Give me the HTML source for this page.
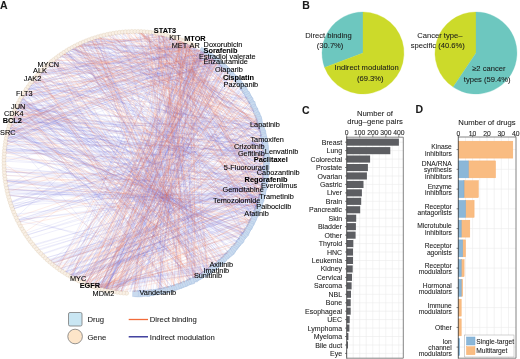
<!DOCTYPE html><html><head><meta charset="utf-8"><style>html,body{margin:0;padding:0;background:#fff;width:520px;height:359px;overflow:hidden}svg{display:block}text{font-family:'Liberation Sans', Arial, Helvetica, sans-serif;fill:#1a1a1a;stroke:#1a1a1a;stroke-width:0.07px}.cl{fill:#000;stroke:#000;stroke-width:0.08px}</style></head><body>
<svg width="520" height="359" viewBox="0 0 520 359">
<g fill="#f9f0e6" stroke="#e2d2bd" stroke-width="0.45"><circle cx="126.6" cy="293.2" r="2.05"/><circle cx="123.5" cy="293" r="2.05"/><circle cx="120.4" cy="292.7" r="2.05"/><circle cx="117.3" cy="292.3" r="2.05"/><circle cx="114.2" cy="291.8" r="2.05"/><circle cx="111.1" cy="291.3" r="2.05"/><circle cx="108" cy="290.7" r="2.05"/><circle cx="105" cy="290" r="2.05"/><circle cx="101.9" cy="289.3" r="2.05"/><circle cx="98.9" cy="288.4" r="2.05"/><circle cx="95.9" cy="287.5" r="2.05"/><circle cx="93" cy="286.6" r="2.05"/><circle cx="90" cy="285.5" r="2.05"/><circle cx="87.1" cy="284.4" r="2.05"/><circle cx="84.2" cy="283.2" r="2.05"/><circle cx="81.3" cy="282" r="2.05"/><circle cx="78.5" cy="280.7" r="2.05"/><circle cx="75.7" cy="279.3" r="2.05"/><circle cx="72.9" cy="277.9" r="2.05"/><circle cx="70.2" cy="276.3" r="2.05"/><circle cx="67.5" cy="274.8" r="2.05"/><circle cx="64.8" cy="273.1" r="2.05"/><circle cx="62.2" cy="271.4" r="2.05"/><circle cx="59.6" cy="269.7" r="2.05"/><circle cx="57.1" cy="267.8" r="2.05"/><circle cx="54.6" cy="265.9" r="2.05"/><circle cx="52.2" cy="264" r="2.05"/><circle cx="49.8" cy="262" r="2.05"/><circle cx="47.4" cy="259.9" r="2.05"/><circle cx="45.1" cy="257.8" r="2.05"/><circle cx="42.9" cy="255.6" r="2.05"/><circle cx="40.7" cy="253.4" r="2.05"/><circle cx="38.5" cy="251.1" r="2.05"/><circle cx="36.5" cy="248.8" r="2.05"/><circle cx="34.4" cy="246.4" r="2.05"/><circle cx="32.5" cy="244" r="2.05"/><circle cx="30.5" cy="241.6" r="2.05"/><circle cx="28.7" cy="239" r="2.05"/><circle cx="26.9" cy="236.5" r="2.05"/><circle cx="25.2" cy="233.9" r="2.05"/><circle cx="23.5" cy="231.2" r="2.05"/><circle cx="21.9" cy="228.6" r="2.05"/><circle cx="20.3" cy="225.8" r="2.05"/><circle cx="18.9" cy="223.1" r="2.05"/><circle cx="17.4" cy="220.3" r="2.05"/><circle cx="16.1" cy="217.5" r="2.05"/><circle cx="14.8" cy="214.6" r="2.05"/><circle cx="13.6" cy="211.8" r="2.05"/><circle cx="12.5" cy="208.8" r="2.05"/><circle cx="11.4" cy="205.9" r="2.05"/><circle cx="10.4" cy="202.9" r="2.05"/><circle cx="9.5" cy="200" r="2.05"/><circle cx="8.6" cy="197" r="2.05"/><circle cx="7.8" cy="193.9" r="2.05"/><circle cx="7.1" cy="190.9" r="2.05"/><circle cx="6.5" cy="187.8" r="2.05"/><circle cx="5.9" cy="184.8" r="2.05"/><circle cx="5.4" cy="181.7" r="2.05"/><circle cx="5" cy="178.6" r="2.05"/><circle cx="4.6" cy="175.5" r="2.05"/><circle cx="4.4" cy="172.4" r="2.05"/><circle cx="4.2" cy="169.2" r="2.05"/><circle cx="4.1" cy="166.1" r="2.05"/><circle cx="4" cy="163" r="2.05"/><circle cx="4" cy="159.9" r="2.05"/><circle cx="4.1" cy="156.7" r="2.05"/><circle cx="4.3" cy="153.6" r="2.05"/><circle cx="4.5" cy="150.5" r="2.05"/><circle cx="4.9" cy="147.4" r="2.05"/><circle cx="5.3" cy="144.3" r="2.05"/><circle cx="5.7" cy="141.2" r="2.05"/><circle cx="6.3" cy="138.1" r="2.05"/><circle cx="6.9" cy="135.1" r="2.05"/><circle cx="7.6" cy="132" r="2.05"/><circle cx="8.4" cy="129" r="2.05"/><circle cx="9.2" cy="126" r="2.05"/><circle cx="10.1" cy="123" r="2.05"/><circle cx="11.1" cy="120" r="2.05"/><circle cx="12.1" cy="117.1" r="2.05"/><circle cx="13.2" cy="114.2" r="2.05"/><circle cx="14.4" cy="111.3" r="2.05"/><circle cx="15.7" cy="108.4" r="2.05"/><circle cx="17" cy="105.6" r="2.05"/><circle cx="18.4" cy="102.8" r="2.05"/><circle cx="19.9" cy="100" r="2.05"/><circle cx="21.4" cy="97.3" r="2.05"/><circle cx="23" cy="94.6" r="2.05"/><circle cx="24.6" cy="92" r="2.05"/><circle cx="26.3" cy="89.3" r="2.05"/><circle cx="28.1" cy="86.8" r="2.05"/><circle cx="29.9" cy="84.2" r="2.05"/><circle cx="31.8" cy="81.8" r="2.05"/><circle cx="33.8" cy="79.3" r="2.05"/><circle cx="35.8" cy="76.9" r="2.05"/><circle cx="37.9" cy="74.6" r="2.05"/><circle cx="40" cy="72.3" r="2.05"/><circle cx="42.2" cy="70.1" r="2.05"/><circle cx="44.4" cy="67.9" r="2.05"/><circle cx="46.7" cy="65.7" r="2.05"/><circle cx="49" cy="63.7" r="2.05"/><circle cx="51.4" cy="61.6" r="2.05"/><circle cx="53.8" cy="59.7" r="2.05"/><circle cx="56.3" cy="57.8" r="2.05"/><circle cx="58.8" cy="55.9" r="2.05"/><circle cx="61.4" cy="54.1" r="2.05"/><circle cx="64" cy="52.4" r="2.05"/><circle cx="66.7" cy="50.7" r="2.05"/><circle cx="69.3" cy="49.1" r="2.05"/><circle cx="72.1" cy="47.6" r="2.05"/><circle cx="74.8" cy="46.1" r="2.05"/><circle cx="77.6" cy="44.7" r="2.05"/><circle cx="80.4" cy="43.4" r="2.05"/><circle cx="83.3" cy="42.1" r="2.05"/><circle cx="86.2" cy="40.9" r="2.05"/><circle cx="89.1" cy="39.8" r="2.05"/><circle cx="92" cy="38.7" r="2.05"/><circle cx="95" cy="37.8" r="2.05"/><circle cx="98" cy="36.8" r="2.05"/><circle cx="101" cy="36" r="2.05"/><circle cx="104" cy="35.2" r="2.05"/><circle cx="107.1" cy="34.5" r="2.05"/><circle cx="110.1" cy="33.9" r="2.05"/><circle cx="113.2" cy="33.3" r="2.05"/><circle cx="116.3" cy="32.8" r="2.05"/><circle cx="119.4" cy="32.4" r="2.05"/><circle cx="122.5" cy="32.1" r="2.05"/><circle cx="125.6" cy="31.8" r="2.05"/><circle cx="128.7" cy="31.7" r="2.05"/><circle cx="131.8" cy="31.5" r="2.05"/><circle cx="135" cy="31.5" r="2.05"/><circle cx="138.1" cy="31.5" r="2.05"/><circle cx="141.2" cy="31.6" r="2.05"/><circle cx="144.3" cy="31.8" r="2.05"/><circle cx="147.4" cy="32.1" r="2.05"/><circle cx="150.5" cy="32.4" r="2.05"/><circle cx="153.6" cy="32.8" r="2.05"/><circle cx="156.7" cy="33.3" r="2.05"/><circle cx="159.8" cy="33.9" r="2.05"/><circle cx="162.9" cy="34.5" r="2.05"/><circle cx="165.9" cy="35.2" r="2.05"/><circle cx="168.9" cy="36" r="2.05"/><circle cx="172" cy="36.8" r="2.05"/><circle cx="174.9" cy="37.7" r="2.05"/><circle cx="177.9" cy="38.7" r="2.05"/><circle cx="180.8" cy="39.8" r="2.05"/><circle cx="183.8" cy="40.9" r="2.05"/><circle cx="186.6" cy="42.1" r="2.05"/><circle cx="189.5" cy="43.4" r="2.05"/><circle cx="192.3" cy="44.7" r="2.05"/><circle cx="195.1" cy="46.1" r="2.05"/></g>
<g fill="#cadbef" stroke="#adc4e2" stroke-width="0.45"><rect x="200.5" y="48" width="3.4" height="3.4" transform="rotate(32.1 202.2 49.7)"/><rect x="202.4" y="49.1" width="3.6" height="3.6" transform="rotate(34.9 204.2 50.9)"/><rect x="204.2" y="50.2" width="3.8" height="3.8" transform="rotate(19.8 206.1 52.1)"/><rect x="206.4" y="51.8" width="3.2" height="3.2" transform="rotate(43.9 208 53.4)"/><rect x="208.2" y="53" width="3.5" height="3.5" transform="rotate(26.8 209.9 54.7)"/><rect x="209.7" y="53.9" width="4.2" height="4.2" transform="rotate(34.9 211.8 56)"/><rect x="211.6" y="55.3" width="4" height="4" transform="rotate(36.1 213.7 57.4)"/><rect x="213.6" y="56.8" width="3.8" height="3.8" transform="rotate(27.3 215.5 58.8)"/><rect x="215.4" y="58.3" width="3.8" height="3.8" transform="rotate(49.8 217.3 60.2)"/><rect x="217.2" y="59.8" width="3.7" height="3.7" transform="rotate(47 219 61.6)"/><rect x="218.9" y="61.2" width="3.9" height="3.9" transform="rotate(27.7 220.8 63.1)"/><rect x="220.5" y="62.6" width="4" height="4" transform="rotate(44.5 222.5 64.6)"/><rect x="222.5" y="64.4" width="3.5" height="3.5" transform="rotate(28.7 224.2 66.2)"/><rect x="223.8" y="65.7" width="4.1" height="4.1" transform="rotate(43 225.9 67.7)"/><rect x="225.6" y="67.4" width="3.9" height="3.9" transform="rotate(56.2 227.5 69.3)"/><rect x="227.2" y="69" width="3.9" height="3.9" transform="rotate(58.4 229.1 71)"/><rect x="228.9" y="70.8" width="3.6" height="3.6" transform="rotate(55.8 230.7 72.6)"/><rect x="230.4" y="72.5" width="3.6" height="3.6" transform="rotate(60.9 232.3 74.3)"/><rect x="231.8" y="74" width="4.1" height="4.1" transform="rotate(36.7 233.8 76)"/><rect x="233.6" y="76.1" width="3.3" height="3.3" transform="rotate(41.3 235.3 77.8)"/><rect x="234.1" y="76.8" width="5.4" height="5.4" transform="rotate(48.9 236.8 79.5)"/><rect x="235.7" y="78.8" width="5" height="5" transform="rotate(45.8 238.2 81.3)"/><rect x="237.2" y="80.7" width="4.8" height="4.8" transform="rotate(49.4 239.6 83.1)"/><rect x="238.6" y="82.6" width="4.6" height="4.6" transform="rotate(56.4 241 85)"/><rect x="239.8" y="84.4" width="4.9" height="4.9" transform="rotate(66.9 242.3 86.8)"/><rect x="241.1" y="86.2" width="5" height="5" transform="rotate(68.7 243.6 88.7)"/><rect x="242.3" y="88" width="5.2" height="5.2" transform="rotate(71.5 244.9 90.6)"/><rect x="243.6" y="90" width="5" height="5" transform="rotate(47.7 246.1 92.5)"/><rect x="244.7" y="91.9" width="5.2" height="5.2" transform="rotate(72.7 247.3 94.5)"/><rect x="245.8" y="93.8" width="5.3" height="5.3" transform="rotate(61.9 248.5 96.5)"/><rect x="247.1" y="95.9" width="5.1" height="5.1" transform="rotate(52.1 249.6 98.4)"/><rect x="248.1" y="97.9" width="5.2" height="5.2" transform="rotate(64 250.7 100.5)"/><rect x="249.5" y="100.2" width="4.5" height="4.5" transform="rotate(49.7 251.8 102.5)"/><rect x="250.2" y="101.9" width="5.2" height="5.2" transform="rotate(78.5 252.8 104.5)"/><rect x="251.7" y="104.4" width="4.3" height="4.3" transform="rotate(73.8 253.8 106.6)"/><rect x="252.4" y="106.3" width="4.7" height="4.7" transform="rotate(55.3 254.8 108.7)"/><rect x="253.4" y="108.5" width="4.6" height="4.6" transform="rotate(74.9 255.7 110.8)"/><rect x="253.9" y="110.3" width="5.2" height="5.2" transform="rotate(54.1 256.6 112.9)"/><rect x="254.9" y="112.5" width="4.9" height="4.9" transform="rotate(55.1 257.4 115)"/><rect x="255.7" y="114.6" width="5.1" height="5.1" transform="rotate(64.7 258.2 117.2)"/><rect x="256.4" y="116.7" width="5.3" height="5.3" transform="rotate(85.2 259 119.3)"/><rect x="257.3" y="119.1" width="4.8" height="4.8" transform="rotate(86.8 259.7 121.5)"/><rect x="258.1" y="121.4" width="4.6" height="4.6" transform="rotate(60.1 260.4 123.7)"/><rect x="258.6" y="123.4" width="4.9" height="4.9" transform="rotate(59.7 261.1 125.9)"/><rect x="259.5" y="125.9" width="4.4" height="4.4" transform="rotate(72 261.7 128.1)"/><rect x="259.5" y="127.5" width="5.5" height="5.5" transform="rotate(65.5 262.3 130.3)"/><rect x="260.5" y="130.1" width="4.8" height="4.8" transform="rotate(87.8 262.8 132.5)"/><rect x="260.8" y="132.2" width="5.1" height="5.1" transform="rotate(91.6 263.3 134.8)"/><rect x="260.9" y="134.1" width="5.9" height="5.9" transform="rotate(75.1 263.8 137)"/><rect x="261.6" y="136.6" width="5.3" height="5.3" transform="rotate(80.4 264.2 139.2)"/><rect x="261.8" y="138.7" width="5.5" height="5.5" transform="rotate(83.7 264.6 141.5)"/><rect x="262.2" y="141.1" width="5.4" height="5.4" transform="rotate(85.4 265 143.8)"/><rect x="262.3" y="143.1" width="5.9" height="5.9" transform="rotate(83 265.3 146)"/><rect x="262.9" y="145.7" width="5.3" height="5.3" transform="rotate(90.4 265.5 148.3)"/><rect x="263.3" y="148.1" width="5" height="5" transform="rotate(78.8 265.8 150.6)"/><rect x="263" y="149.9" width="6" height="6" transform="rotate(86.4 265.9 152.9)"/><rect x="263.4" y="152.5" width="5.4" height="5.4" transform="rotate(72.1 266.1 155.2)"/><rect x="263.6" y="154.8" width="5.2" height="5.2" transform="rotate(90.2 266.2 157.5)"/><rect x="263.9" y="157.4" width="4.7" height="4.7" transform="rotate(92.3 266.3 159.8)"/><rect x="263.5" y="159.3" width="5.5" height="5.5" transform="rotate(76.6 266.3 162)"/><rect x="263.5" y="161.6" width="5.5" height="5.5" transform="rotate(89.8 266.3 164.3)"/><rect x="263.4" y="163.8" width="5.6" height="5.6" transform="rotate(87.4 266.2 166.6)"/><rect x="263.3" y="166.1" width="5.6" height="5.6" transform="rotate(99.9 266.1 168.9)"/><rect x="263.6" y="168.8" width="4.7" height="4.7" transform="rotate(80.6 266 171.2)"/><rect x="263.1" y="170.7" width="5.6" height="5.6" transform="rotate(108.7 265.8 173.5)"/><rect x="263.1" y="173.3" width="5" height="5" transform="rotate(94.5 265.6 175.8)"/><rect x="262.6" y="175.3" width="5.5" height="5.5" transform="rotate(91.4 265.4 178)"/><rect x="262.5" y="177.7" width="5.2" height="5.2" transform="rotate(92.2 265.1 180.3)"/><rect x="262.2" y="180" width="5.2" height="5.2" transform="rotate(101.7 264.8 182.6)"/><rect x="261.8" y="182.3" width="5.1" height="5.1" transform="rotate(96.1 264.4 184.8)"/><rect x="261.1" y="184.3" width="5.7" height="5.7" transform="rotate(86.6 264 187.1)"/><rect x="260.8" y="186.6" width="5.4" height="5.4" transform="rotate(108.9 263.5 189.4)"/><rect x="260.5" y="189" width="5.1" height="5.1" transform="rotate(94.5 263 191.6)"/><rect x="259.6" y="190.9" width="5.7" height="5.7" transform="rotate(96 262.5 193.8)"/><rect x="259.5" y="193.6" width="4.9" height="4.9" transform="rotate(102.9 261.9 196)"/><rect x="258.5" y="195.4" width="5.6" height="5.6" transform="rotate(93.9 261.3 198.3)"/><rect x="258.1" y="197.9" width="5.1" height="5.1" transform="rotate(101.8 260.7 200.4)"/><rect x="257.1" y="199.7" width="5.8" height="5.8" transform="rotate(106 260 202.6)"/><rect x="256.4" y="201.9" width="5.8" height="5.8" transform="rotate(98.9 259.3 204.8)"/><rect x="256" y="204.4" width="5.1" height="5.1" transform="rotate(114.3 258.5 207)"/><rect x="254.8" y="206.2" width="5.9" height="5.9" transform="rotate(109.3 257.7 209.1)"/><rect x="254.4" y="208.8" width="5" height="5" transform="rotate(100.4 256.9 211.3)"/><rect x="253.3" y="210.7" width="5.4" height="5.4" transform="rotate(103.5 256 213.4)"/><rect x="252.3" y="212.6" width="5.7" height="5.7" transform="rotate(124 255.1 215.5)"/><rect x="251.7" y="215.1" width="4.9" height="4.9" transform="rotate(108.2 254.2 217.6)"/><rect x="250.3" y="216.8" width="5.7" height="5.7" transform="rotate(120.1 253.2 219.6)"/><rect x="249.3" y="218.8" width="5.7" height="5.7" transform="rotate(112.2 252.2 221.7)"/><rect x="248.7" y="221.3" width="4.9" height="4.9" transform="rotate(111.6 251.1 223.7)"/><rect x="247.2" y="222.9" width="5.7" height="5.7" transform="rotate(111.9 250.1 225.8)"/><rect x="246.4" y="225.2" width="5.2" height="5.2" transform="rotate(117.3 248.9 227.8)"/><rect x="245.2" y="227.1" width="5.2" height="5.2" transform="rotate(118.1 247.8 229.7)"/><rect x="243.6" y="228.7" width="5.9" height="5.9" transform="rotate(111.5 246.6 231.7)"/><rect x="243" y="231.3" width="4.7" height="4.7" transform="rotate(136.1 245.4 233.6)"/><rect x="241.2" y="232.6" width="5.8" height="5.8" transform="rotate(138.4 244.1 235.5)"/><rect x="240.2" y="234.8" width="5.3" height="5.3" transform="rotate(138.3 242.8 237.4)"/><rect x="238.5" y="236.4" width="5.9" height="5.9" transform="rotate(117.5 241.5 239.3)"/><rect x="237.3" y="238.3" width="5.7" height="5.7" transform="rotate(136.9 240.1 241.2)"/><rect x="236" y="240.2" width="5.6" height="5.6" transform="rotate(128.4 238.7 243)"/><rect x="234.8" y="242.2" width="5.1" height="5.1" transform="rotate(124 237.3 244.8)"/><rect x="233.4" y="244" width="5" height="5" transform="rotate(116.8 235.9 246.5)"/><rect x="231.7" y="245.6" width="5.5" height="5.5" transform="rotate(124.4 234.4 248.3)"/><rect x="230" y="247.1" width="5.8" height="5.8" transform="rotate(118.2 232.9 250)"/><rect x="228.4" y="248.8" width="5.9" height="5.9" transform="rotate(138.6 231.3 251.7)"/><rect x="226.8" y="250.4" width="5.9" height="5.9" transform="rotate(145.7 229.8 253.4)"/><rect x="225.2" y="252.1" width="5.9" height="5.9" transform="rotate(137.1 228.2 255)"/><rect x="224.2" y="254.3" width="4.7" height="4.7" transform="rotate(143.2 226.5 256.6)"/><rect x="222.4" y="255.8" width="4.9" height="4.9" transform="rotate(130.8 224.9 258.2)"/><rect x="220.4" y="257" width="5.6" height="5.6" transform="rotate(138.5 223.2 259.8)"/><rect x="218.9" y="258.7" width="5.2" height="5.2" transform="rotate(152 221.5 261.3)"/><rect x="217" y="260" width="5.5" height="5.5" transform="rotate(135 219.7 262.8)"/><rect x="215.5" y="261.7" width="5" height="5" transform="rotate(151.6 218 264.3)"/><rect x="213.5" y="263" width="5.3" height="5.3" transform="rotate(150.3 216.2 265.7)"/><rect x="211.8" y="264.5" width="5.2" height="5.2" transform="rotate(133.7 214.4 267.1)"/><rect x="209.8" y="265.8" width="5.4" height="5.4" transform="rotate(153.3 212.5 268.5)"/><rect x="208.2" y="267.3" width="4.9" height="4.9" transform="rotate(153.6 210.7 269.8)"/><rect x="205.9" y="268.1" width="5.9" height="5.9" transform="rotate(155 208.8 271.1)"/><rect x="204" y="269.5" width="5.8" height="5.8" transform="rotate(132 206.9 272.4)"/><rect x="202.2" y="270.8" width="5.5" height="5.5" transform="rotate(158.7 205 273.6)"/><rect x="200.6" y="272.4" width="4.8" height="4.8" transform="rotate(141.9 203 274.8)"/><rect x="198.5" y="273.5" width="5" height="5" transform="rotate(150.6 201 276)"/><rect x="196.4" y="274.5" width="5.2" height="5.2" transform="rotate(150 199.1 277.1)"/><rect x="194.2" y="275.4" width="5.7" height="5.7" transform="rotate(136.9 197 278.2)"/><rect x="192.6" y="276.9" width="4.8" height="4.8" transform="rotate(141.6 195 279.3)"/><rect x="190.5" y="277.9" width="4.9" height="4.9" transform="rotate(140.9 193 280.3)"/><rect x="187.9" y="278.3" width="6" height="6" transform="rotate(165.4 190.9 281.3)"/><rect x="186.4" y="279.9" width="4.8" height="4.8" transform="rotate(155.9 188.8 282.3)"/><rect x="184.2" y="280.6" width="5.1" height="5.1" transform="rotate(151.2 186.7 283.2)"/><rect x="182" y="281.5" width="5.2" height="5.2" transform="rotate(162.2 184.6 284.1)"/><rect x="179.8" y="282.2" width="5.5" height="5.5" transform="rotate(154.6 182.5 284.9)"/><rect x="177.9" y="283.2" width="4.9" height="4.9" transform="rotate(154.7 180.3 285.7)"/><rect x="175.7" y="284.1" width="4.9" height="4.9" transform="rotate(162.5 178.2 286.5)"/><rect x="173.2" y="284.4" width="5.6" height="5.6" transform="rotate(158.2 176 287.2)"/><rect x="171.4" y="285.5" width="4.8" height="4.8" transform="rotate(153.2 173.8 287.9)"/><rect x="169" y="286" width="5.2" height="5.2" transform="rotate(166.9 171.6 288.6)"/><rect x="166.6" y="286.3" width="5.7" height="5.7" transform="rotate(161.2 169.4 289.2)"/><rect x="164.3" y="286.9" width="5.7" height="5.7" transform="rotate(169.5 167.2 289.8)"/><rect x="162.4" y="287.7" width="5.3" height="5.3" transform="rotate(163 165 290.3)"/><rect x="160.1" y="288.2" width="5.3" height="5.3" transform="rotate(173.9 162.7 290.8)"/><rect x="157.9" y="288.7" width="5.2" height="5.2" transform="rotate(174.6 160.5 291.3)"/><rect x="155.6" y="289.1" width="5.3" height="5.3" transform="rotate(162.2 158.3 291.7)"/><rect x="153.3" y="289.4" width="5.4" height="5.4" transform="rotate(176.7 156 292.1)"/><rect x="151.3" y="290.1" width="4.8" height="4.8" transform="rotate(169.5 153.7 292.5)"/><rect x="148.8" y="290.1" width="5.3" height="5.3" transform="rotate(184.2 151.5 292.8)"/><rect x="146.2" y="290.1" width="5.9" height="5.9" transform="rotate(170 149.2 293)"/><rect x="144" y="290.3" width="5.9" height="5.9" transform="rotate(183.5 146.9 293.3)"/><rect x="142.1" y="290.9" width="5" height="5" transform="rotate(174.7 144.6 293.4)"/><rect x="139.9" y="291.2" width="4.9" height="4.9" transform="rotate(186.2 142.3 293.6)"/><rect x="137.3" y="290.9" width="5.6" height="5.6" transform="rotate(189.4 140 293.7)"/><rect x="134.9" y="290.9" width="5.7" height="5.7" transform="rotate(183.8 137.7 293.8)"/><rect x="132.6" y="291" width="5.7" height="5.7" transform="rotate(181.7 135.5 293.8)"/></g>
<g fill="none" stroke-width="0.5">
<path stroke="rgba(105,105,215,0.21)" d="M213.1 59.2L41.7 72.7M223.5 68L7.7 138.9M219.2 64.1L51.8 63.2M209.4 56.5L21.4 100.4M211 57.7L13.4 118M194.8 47.7L21.8 99.6M211.6 58.1L17 109.1M173.1 38.7L40.6 73.9M187.3 44L30.3 86.4M216 61.4L7.7 138.6M220.7 65.4L68.7 51.2M215 60.7L60 57M191.5 46L46.4 68M226.4 70.8L35.5 79.7M161.2 35.7L8.4 135.4M153 34.3L27.4 90.4M206.6 54.6L8.3 135.7M213.3 59.3L27.9 89.7M213.8 59.7L9 132.5M162.5 36L76 47.2M191.1 45.8L19.3 104.4M224.1 68.5L6.8 143.9M186 43.5L94.7 39.4M220.7 65.5L39.6 74.9M200.7 50.9L87.1 42.2M197.8 49.3L83.6 43.7M187.9 44.3L9.9 129.1M217.6 62.8L7.4 140.7M220.4 65.1L80 45.2M208.9 56.2L7.3 141M199.2 50.1L40.9 73.5M202.4 51.9L82 44.3M202.3 51.9L12.7 119.9M220.9 65.6L41.4 73.1M197 48.8L74.9 47.8M215.1 60.8L80.5 45M216.2 61.6L16 111.5M218.2 63.3L18 107M206.3 54.4L95.2 39.3M246.5 96.7L95 39.3M207.8 55.4L51.4 63.6M215.4 61L78.9 45.8M183 42.2L9.2 131.9M173.5 38.9L88.5 41.6M203.6 52.7L13.3 118.3M180.6 41.3L23.2 97.2M221.5 66.1L28.8 88.4M211.1 57.7L87.8 41.9M211.3 57.9L11.7 122.9M229 73.4L24.6 94.9M228.5 72.9L40.7 73.7M198.5 49.6L31.7 84.4M191.5 46L16.8 109.6M202.4 52L11 125.1M222.3 66.9L24.8 94.4M164.7 36.4L30.5 86M181.8 41.7L38.2 76.5M203.1 52.3L6.8 143.9M213.5 59.5L63.7 54.4M221.7 66.3L22.7 98.1M169.7 37.7L10 128.7M206.8 54.7L44.5 69.9M179.7 41L88.9 41.5M185.6 43.3L39.2 75.3M188.3 44.5L33.4 82.2M153.9 34.4L60.4 56.6M186.1 43.5L10.6 126.5M215.9 61.4L8.8 133.6M209.8 56.8L71.3 49.8M226.7 71.1L84.7 43.2M212.4 58.7L28.5 88.8M242.7 90.5L100 37.8M203 52.3L43.6 70.7M186.6 43.7L8.5 134.9M186.8 43.8L71.9 49.4M215.1 60.8L7.7 138.6M222.2 66.8L11.8 122.5M190.4 45.5L59.1 57.6M238.7 84.9L52.6 62.6M222.3 66.8L9.1 132M218.4 63.4L43.5 70.8M201 51.1L107.9 289.1M212 58.4L86.8 282.7M184.2 42.7L93.7 285.3M181.7 41.7L97.2 286.4M153 34.3L73 276.2M213.3 59.4L116.4 290.7M203.2 52.4L115.4 290.5M214.7 60.4L62.9 270M200.8 50.9L100.7 287.4M199.5 50.2L56.8 265.8M244.2 92.9L104.1 288.2M219.5 64.4L88.2 283.2M204.7 53.3L80.8 280.1M203.7 52.7L72.4 275.9M214.1 60L71.9 275.6M202.6 52L118.3 290.9M223.2 67.7L71.3 275.2M186 43.5L111.5 289.8M164.2 36.3L66.9 272.6M202.6 52.1L80.9 280.2M229.8 74.2L82.6 280.9M224.4 68.8L78.2 278.9M202.1 51.7L67.3 272.9M203.7 52.7L86.3 282.5M201.9 51.6L70.9 275M172.8 38.6L69.2 274M217.1 62.4L75.2 277.4M241.4 88.7L120.2 291.2M197.4 49L65.9 272M188.7 44.6L106.5 288.8M208.3 55.7L106.4 288.8M220.8 65.5L65.9 272M224.7 69.1L105 288.5M188.2 44.4L121.3 291.3M230.1 74.6L101.2 287.5M190.8 45.6L95.1 285.7M202.8 52.1L62 269.5M172.7 38.6L58.7 267.1M201.3 51.3L70.1 274.6M199.1 50L100.3 287.3M209.2 56.4L106.6 288.9M210.5 57.3L81.9 280.6M203.6 52.7L92.3 284.8M209.4 56.5L86.3 282.5M193.7 47.1L143.1 291.7M147.4 33.6L207.1 270.1M191 45.7L173.9 286M146.3 33.5L180.4 283.8M187.6 44.2L142.6 291.8M172.9 38.7L157 290.1M182.7 42.1L159.8 289.6M185.6 43.3L192.6 278.5M159.2 35.3L160.7 289.4M152.1 34.1L204.4 271.8M169.8 37.8L133.9 292M159 35.2L133.8 292M162.1 35.9L207.8 269.6M180.8 41.4L195.1 277.2M194.4 47.4L186.6 281.3M158.2 35.1L193.4 278.1M161.4 35.7L134.5 292M166.4 36.9L194 277.8M166.4 36.9L139 291.9M183.2 42.3L130.7 291.9M163.2 36.1L196.1 276.7M183.9 42.6L207.1 270.1M148.1 33.7L204.9 271.5M159.5 35.3L151.6 290.9M163.7 36.2L189.6 279.9M177.6 40.2L190.3 279.6M184.3 42.8L137.5 292M196.5 276.4L95.9 39.1M172.7 286.4L68.9 51.1M207.1 270.1L31.2 85.1M222 258.4L19.4 104M191.1 279.2L28.3 89.1M221.7 258.7L13.9 116.5M200.6 274.2L55.7 60.1M176.8 285.1L82 44.4M190.1 279.7L32.1 83.9M217.6 262.2L86.6 42.4M206.6 270.4L34 81.4M194.3 277.6L21.6 99.9M196.6 276.4L78.5 46M219.7 260.5L19 105M211.3 267.2L53.4 61.9M214.5 264.7L75.6 47.4M209.4 268.5L27 91.1M200.6 274.2L84.1 43.4M204.1 272L19.4 104M214.5 264.7L10.1 128.2M225.7 254.9L48.5 66.1M164.5 288.6L13.6 117.5M209.4 268.5L45.5 68.9M220.3 259.9L42.5 71.8M161.9 289.2L98.3 38.3M164.9 288.5L55.7 60.1M201.4 273.7L81.9 44.4M211.8 266.8L67.3 52.1M224.2 256.3L49.6 65.2M187.7 280.8L48.4 66.3M207.9 269.5L36.1 78.9M199.1 275L10.8 125.9M195.5 277L21.9 99.5M194.1 277.7L11.5 123.7M221.9 258.6L68.3 51.5M194 277.8L12 121.9M168.5 287.6L101 37.5M171.7 286.7L19.2 104.5M195.4 277.1L95.8 39.1M216.9 262.8L74.8 47.8M222.8 257.7L30.3 86.3M171.7 286.7L16.3 110.6M215.8 263.7L17.3 108.4M255.9 208.9L74 48.3M262 188L105 36.5M263.8 176.2L134.6 33M254 111.5L188.9 44.7M257.9 203.2L66.2 52.8M260.9 132.2L142.6 33.2M262.5 185.1L114.6 34.6M259.8 128.1L135 33M256.5 117.6L71.7 49.5M261.3 133.8L62 55.5M263.7 177.3L103.7 36.8M264.5 159.9L181.9 41.8M258.8 124.6L138.4 33M249.5 222.9L161.9 35.8M247.6 98.6L170 37.8M249.9 102.7L101.8 37.3M260 196.4L170.1 37.8M260.3 129.7L156.7 34.8M257.8 203.6L100.6 37.6M263 143L89.3 41.3M262.1 187.2L149.8 33.9M242.8 234.2L119.6 33.9M260.1 196.1L141.9 33.2M258.2 202.3L68.2 51.6M263.7 148.1L166.4 36.9M249.4 223.2L68.2 51.5M252.3 217.4L165.7 36.7M253.8 110.8L72 49.4M244 232.4L124.2 33.4M251.3 219.4L71.1 49.8M264.4 166.8L122.6 33.6M253.2 215.3L92.1 40.3M261.9 136.6L86.2 42.5M264.4 167.9L73.4 48.6M252.6 108.3L162.5 36M264.2 153.7L109.6 35.5M259.1 125.5L92.4 40.2M264.4 168.3L107.5 35.9M260.2 129.4L118.4 34.1M257.4 204.7L157.9 35M252.6 216.8L145.7 33.4M257.5 120.4L115.5 34.5M262.4 139.1L151.2 34M263 143L83.1 43.9M258.6 201.2L72.4 49.1M253.9 111.1L108.2 35.8M264.2 153.3L162.9 36.1M260 128.7L153.8 34.4M256.4 207.5L150.8 34M264.4 156.3L161.8 35.8M263.9 174.5L79.6 45.5M263.4 179.1L129.3 33.1M264.3 169.9L142.6 33.2M264.2 171.3L111.7 35.1M257 205.9L74.9 47.8M262.4 139L20.5 102M263.2 144.4L18.3 106.4M263.6 147L70.1 50.4M259.8 128.1L30.5 86M254.3 112.1L77.9 46.3M264 173.5L49.1 65.6M258.5 123.4L97.6 38.5M264 174.1L82.2 44.3M264.1 152.9L35.4 79.7M254.1 111.7L83.8 43.6M259 199.9L33.5 82.1M247.3 98L72.4 49.1M259.1 125.7L35.9 79.1M263.7 148L64.2 54.1M262.5 139.9L93.8 39.7M250.5 104L83.1 43.8M261.1 191.9L25.2 93.8M254.8 211.7L66 52.9M257.4 204.7L61.5 55.9M263.6 177.8L90.1 41M259.4 198.5L28.7 88.5M264.5 160.7L74.4 48.1M257.8 203.7L56.6 59.4M258.8 124.4L25.1 93.9M264.3 155.8L51.6 63.4M258.5 201.4L18 107.1M264.1 152.9L57.3 58.9M259.3 198.7L41.5 73M254.4 212.8L21.5 100.2M264 173.8L19 104.9M263.4 179.5L94.1 39.6M253.3 215.2L52.7 62.5M257.2 205.4L19.3 104.3M264.1 172.4L38.7 76M262.6 140.3L49.6 65.2M261.5 190.3L29.6 87.2M263.6 147.2L56.5 59.5M260.7 131.4L83.1 43.8M264.4 157.3L33.8 81.7M253.6 214.4L65.9 53M261.8 136L37 77.8M264.4 167.6L64 54.2M249.6 102.1L72.5 49.1M264.5 162.5L20.1 102.7M247.5 98.4L28.3 89.2M264.3 170.4L66.2 52.8M256.7 206.9L61.8 55.7M264.1 172.6L69.9 50.6M263.4 179.3L29.7 87.1M256.7 118.1L19.5 104M256.5 207.4L66 52.9M247.9 226L17.1 108.9M264.1 152.3L8.3 135.9M264.5 160.5L10 128.6M239.7 238.7L6.1 150.3M258.4 123.3L6.5 146.5M260.4 195L20.5 101.9M257.3 120L9.4 131M239.4 239.1L22.3 98.7M264.1 173.2L6.4 147.5M237.1 242.2L6.3 148.3M261.5 135L5.9 152.4M258.8 124.7L16.8 109.6M258.4 201.9L15.3 113.1M239.8 238.5L7.7 138.7M264.4 167.1L12.5 120.4M256.2 208.1L6.7 145M264.4 166.6L13.9 116.6M264 174L9.4 131.1M238.8 239.9L17.1 109M264.4 156.9L6.1 149.9M254.9 211.4L18.1 106.7M259.3 199L22.2 98.9M259.4 198.3L8.3 135.5M243.3 233.6L9.2 131.6M259.4 198.4L19.9 103.1M264.3 155.7L5.8 153.4M263.9 174.6L12.7 119.8M243.3 233.5L6 151M248.6 224.7L19.2 104.6M264.2 154.4L18.7 105.5M255.8 209.1L20.4 102.2M260.1 129.2L12.1 121.6M263.2 144.5L16.2 110.9M263.8 149.1L13.1 118.7M263.3 180.3L7.2 141.4M252.3 217.4L17.2 108.6M260.2 129.6L17.6 107.8M244.8 93.8L122.5 291.4M264.4 168.4L114.9 290.4M209.9 56.9L99.8 287.1M260 128.7L96.2 286M232.3 77.1L98.2 286.7M202 273.3L106.1 288.7M264.4 158.8L112.2 290M262.9 142.5L108.7 289.3M236.6 82.2L103.4 288.1M227.4 253.2L104.4 288.3M211.7 266.8L103.2 288M209.1 268.7L106.4 288.8M209.7 268.3L94.7 285.6M261.3 133.8L110.8 289.7M208.6 55.9L106.2 288.8M220.7 259.6L97.7 286.5M210.5 57.3L102.7 287.9M230.3 74.8L105.2 288.5M253.2 109.5L127 291.8M226.4 70.8L101.1 287.5M234.5 79.7L105.5 288.6M202.7 52.1L101 287.5M214.6 264.7L101.4 287.6M215.7 263.8L98.5 286.8M259.8 196.9L113.6 290.2M264.4 156.4L103.5 288.1M229.9 74.4L105.3 288.6M249.9 102.8L96.9 286.3M204.7 271.6L88.7 283.4M241.5 88.9L99.4 287M201.8 273.4L100 287.2M216.5 263.2L99.9 287.2M212.8 58.9L101.7 287.6M252.6 108.2L104.3 288.3M263.3 145L115.3 290.5M244.3 232L108 289.1M239.2 85.7L102.6 287.9M240.7 87.7L116.5 290.7M214.5 60.3L106.8 288.9M212.3 58.6L114.9 290.4M256.9 118.7L96.3 286.1M203.3 52.5L120.8 291.2M264.4 167.9L97.4 286.4M264.4 166.7L95.9 285.9M227 253.6L96 286M264.5 161.1L116.8 290.7M204.5 53.3L106.8 288.9M261.7 189.3L111.4 289.8M264.4 168.7L107.1 289M226 70.4L105.5 288.6M264.5 166L89.3 283.7M240.8 87.8L71.6 275.4M261.6 135.2L97.9 286.6M264.4 156.4L96.2 286M256.8 118.5L102.3 287.8M244.6 231.4L71.3 275.3M251.1 219.9L71.1 275.1M261.7 135.6L85.6 282.2M228.5 72.9L86.1 282.4M264.1 152.2L75.9 277.7M256.8 206.6L79.7 279.6M263.5 178.3L74.2 276.8M223.5 67.9L96.6 286.2M251.3 105.6L83.1 281.2M243.4 233.4L86.2 282.5M249.9 102.8L89.1 283.6M263.2 181.1L72.4 275.9M264.5 160.6L74.4 276.9M260.7 193.7L85.4 282.1M258 121.9L73.1 276.2M257.1 205.7L78.6 279.1M250.1 103.1L178.6 40.5M236.8 82.4L11.8 202.3M231.2 249.2L34.8 80.4M190.8 279.3L12.7 120M213.9 265.2L88 41.8M201.9 273.4L66.9 52.4M207.6 269.8L26.5 91.8M143.4 291.7L23.1 97.3M202.3 273.1L139.3 33.1M264.3 154.5L6.1 149.6M219.4 260.8L19.6 221.2M253.7 214.2L6.8 180.9M201.3 273.7L128.6 33.2M263.7 176.9L50.4 260.6M234.7 79.8L24 95.9M220.9 65.6L161.1 35.7M183.8 282.5L123.3 33.5M246.5 96.7L5.5 161.5M199.1 50L106.5 288.8M260.3 195.1L161.2 35.7M256 208.8L195.1 47.8M258.4 201.8L57.9 58.4M263.6 146.9L28.8 88.4M148.6 291.3L54.7 60.9M223.7 68.2L7.6 185.5M252.9 216.1L23.6 96.4M142.8 291.8L8.7 133.9M242.1 235.3L194.2 47.3M261.2 133.3L186.8 43.8M258.9 200.2L78.9 279.2M227.8 252.9L115.2 34.5M258.6 123.9L11.8 122.7M243.6 91.9L51.1 261.1M246.1 229L9.7 195.1M239.7 238.7L108.8 289.3M201.1 273.8L16.8 215.4M197 48.8L17.2 216.4M237.6 241.5L14.9 114.1M224 68.4L55.3 264.6M190.2 279.6L33.9 81.6M214 59.9L122.5 291.4M261.5 134.9L69.6 50.7M163.7 288.8L25.6 93.2M168.2 287.7L25.7 93M208.9 56.1L165.9 36.7M260.9 132.2L151.4 34M259.9 128.5L30.9 85.4M260.4 130.3L140.5 33.1M260.8 131.9L13.2 206.4M257.4 204.9L60.9 268.7M260.3 195.3L49.1 259.4M255.9 209L67.2 272.9M251.6 218.8L72.8 276.1M258 122.1L11.8 202.4M259.9 196.8L49.8 260M250.6 221L76.2 277.9M259.9 196.7L51.1 261.2M257.6 120.8L11.4 201.1M257.8 203.6L62.4 269.8M255.5 115.2L7.6 185.8M251.4 105.7L7.8 186.8M254.7 212L65.5 271.8M258.3 202.1L52 261.9M260.7 193.8L53.4 263.1M257.6 204.2L56.9 265.8M264.4 158.3L27.7 235.1M259 125.2L14.1 208.9M260.3 195.4L47.2 257.6M250.1 221.8L70.4 274.8M264.2 153.6L26.4 233M248.8 224.3L72.7 276M256.8 206.5L55.4 264.7M262.6 184.6L38.8 249.2M262.3 138.9L14 208.5M262.6 140.1L18.9 219.8M262.7 141L20.1 222.2M258.7 200.7L53.2 262.9M253.5 214.7L75.6 277.6M260.3 195.1L47.1 257.6M255.5 209.9L60.3 268.3M261.3 191L52.6 262.4M262.9 142.1L18.6 219.3M260.6 130.8L13.9 208.4M260.8 131.7L13.2 206.6M246.6 228.2L70.4 274.8M263.4 179.4L39.6 250.1M256.6 207.2L70 274.5M262.8 183.4L37 247.2M257.5 120.5L11.6 201.9M263.3 180.2L34.6 244.3M264.4 167.3L30 238.3M254.4 212.6L65.8 272M259.1 125.3L12.6 204.8M264.4 167.8L27.5 234.6M263.2 180.9L42.8 253.4M254.1 213.3L64.9 271.4M263.2 144.3L19.4 220.9M263.7 177.1L35.3 245.1M263.1 181.4L43.4 254M263.2 180.7L6.2 149.3M261.7 135.6L10 128.6M264.3 155.3L7.3 140.8M263.6 177.5L5.9 172.2M258.4 201.7L6.6 179.1M264.4 157.8L7.9 137.9M258.6 201L7.8 186.8M264.2 154L8.1 136.6M264 173.4L6.2 149.3M258 202.9L6.8 180.5M250.9 220.2L9.7 195.3M260.8 131.8L13 119.1M264.2 153.4L9.2 131.9M260.8 193.2L5.8 171.6M263.4 145.9L12.8 119.7M264.2 154.3L9.4 131.1M261.7 189.1L6.8 180.9M263.1 181.8L5.7 169.6M264 151.3L10.4 127.3M258.4 201.7L9.1 192.7M264 151.6L7.9 137.6M259.8 127.9L13.3 118.3M261.7 189.5L5.8 171.3M257.2 205.4L8.3 189.5M256.9 206.2L9.1 192.8M253.7 214.4L9.9 195.8M263.3 144.7L10.9 125.4M264.1 152.2L7.3 141.2M263.9 175.4L5.5 161.2M264 151.6L10.2 127.8M259.5 198.2L7.1 182.6M261.1 192.1L5.6 167.3M257.9 203.3L8.3 189.1M263.4 145.3L12.3 121.1M262.9 142.2L14.1 116M256.9 206.3L8.7 191.1M264.5 161L6.6 145.5M262.9 182.6L5.7 156.2M255.7 209.3L6.8 180.6M262.4 185.5L5.5 159M264.2 171L6.3 147.9M260 196.3L6.9 181.2M263.5 178.9L6 150.6M253.9 213.8L8.1 188.3M262.6 184.7L6.1 175.3M235.4 244.2L22.3 98.7M234.2 245.7L20.8 101.4M241.9 235.6L21.3 100.5M243.5 233.3L10.1 128.4M18.7 219.5L260.5 194.3M121.8 291.3L224.3 68.7M223.7 256.9L36.8 78.1M13 206L262.2 187M134.8 292L211.8 58.3M245.1 230.7L8 136.9M129.2 291.9L221.1 65.8M246.9 227.6L9 132.4M223.7 256.9L32.5 83.4M243.6 233L13 119M242.8 234.2L9.7 129.8M198.6 275.3L103.1 37M130 291.9L223.7 68.1M222.2 258.2L37.9 76.8M225.1 255.5L40.3 74.2M7.5 185.3L257.1 205.6M202.6 272.9L91.5 40.5M118.8 291L220.8 65.5M245.4 230.2L9.3 131.4M234.8 245L26.8 91.4M152.9 290.8L189.6 45.1M245.4 230.2L9.4 131.1M16.3 214.2L262.1 187.1M160.9 289.4L194.9 47.7M12.1 203.3L261.3 191.1M159 289.8L189.5 45M117 290.7L229.9 74.4M232.4 247.9L22.1 99.1M236.9 242.4L22 99.3M138.5 292L215.2 60.8M144.3 291.7L214.4 60.2M180.8 283.6L139.7 33.1M155.7 290.3L198 49.4M19.1 220.2L262 187.6M158.7 289.8L190 45.3M139.6 291.9L212.7 58.9M239.7 238.6L13.7 117.2M241.7 235.8L14.2 115.7M226.6 254L38.1 76.6M9.5 194.4L260.4 194.8M231.3 249.1L28.8 88.4M237.5 241.6L20.8 101.4M159.5 289.7L174.7 39.2M193.3 278.1L112.5 35M247.7 226.3L8.5 134.6M8.4 189.9L258.4 201.6M228.4 252.2L28.3 89.1M243.9 232.6L7.4 140.6"/>
<path stroke="rgba(238,110,80,0.24)" d="M198.7 49.7L54.6 61M211.6 58.1L8.7 134.1M169.3 37.6L10.7 126.2M185.8 43.4L98 38.4M194.4 47.4L81.3 44.6M191.4 45.9L42.9 71.4M188.9 44.8L8.3 135.6M184.4 42.8L33.5 82.1M201.6 51.4L98.6 38.2M164.1 36.3L76.3 47M223.3 67.8L12.7 119.8M176.9 40L95.3 39.2M231.4 76L13.2 118.6M205.9 54.1L47.5 67.1M215.3 60.9L8.4 135.2M206.5 54.5L23.7 96.2M214.3 60.1L6.8 144.4M214.1 60L50.3 64.6M203.4 52.5L25.7 93.1M180.9 41.4L9.2 131.7M208.2 55.7L23.9 95.9M193.3 46.9L40.9 73.5M173 38.7L25 94.2M180.4 41.2L15.6 112.4M200.2 50.6L63.6 54.4M200.1 50.6L11 125.1M209.6 56.6L17.5 108M199.9 50.4L32.2 83.7M191.8 46.1L17.3 108.5M209.8 56.8L93.1 40M156.8 34.9L78.8 45.8M219.9 64.7L55.7 60.1M214 59.9L39.6 74.9M220 64.8L14.2 115.8M199.8 50.4L7.2 141.8M212.6 58.8L18.7 105.5M163.2 36.1L75.9 47.2M175 39.3L9.3 131.2M234.5 79.6L33.5 82.1M202.5 52L84.7 281.8M213.3 59.4L113.6 290.2M215.4 61L99.3 287M207.6 55.3L69.7 274.3M191.2 45.9L96.9 286.3M203.6 52.7L103.6 288.1M178 40.4L59 267.4M188.4 44.5L117.6 290.8M217 62.3L110.2 289.6M196.9 48.8L121.4 291.3M210.4 57.2L121.1 291.3M223.8 68.2L115 290.5M207.5 55.2L99.9 287.1M173.6 38.9L94 285.3M191.2 45.8L105.1 288.5M175 39.3L111.9 289.9M199.8 50.4L71.1 275.1M197.6 49.1L116.1 290.6M190.3 45.4L86.9 282.7M207.4 55.1L77.1 278.3M212.2 58.5L70.7 274.9M214.9 60.6L82 280.6M209.2 56.3L75 277.2M181.2 41.5L88.8 283.5M201.4 51.3L61.5 269.1M217.7 62.8L58 266.6M183.2 42.3L87.4 282.9M224.4 68.8L89.8 283.9M204.1 53L111.4 289.8M233.5 78.4L64.8 271.3M228.4 72.8L61 268.8M189.6 45.1L95.2 285.7M227.1 71.5L96 286M203.4 52.6L101.9 287.7M223.8 68.3L103.7 288.2M170.2 37.9L72.2 275.7M181.7 41.7L101.1 287.5M212.3 58.6L88.4 283.3M217.7 62.8L76.2 277.9M201.4 51.3L82.7 281M213.2 59.3L86.7 282.6M247.1 97.6L89.9 283.9M164.9 36.5L107.7 289.1M199 49.9L104.4 288.3M182.8 42.2L94.9 285.6M217.3 62.5L57.1 266M189.4 45L193.8 277.9M159.1 35.3L179.7 284M159.1 35.3L201.6 273.5M169.6 37.7L167.6 287.8M179 40.7L187.2 281M175.9 39.6L180.7 283.7M176.8 39.9L208.6 269.1M190.4 45.4L173.8 286.1M180.4 41.2L178.1 284.6M180 41.1L136.7 292M148.1 33.7L184.5 282.1M183.5 42.4L171.4 286.8M155.9 34.7L193.3 278.2M179.9 41L134.8 292M153.6 34.3L205.7 271M165.7 36.7L181.8 283.3M155 34.6L209.1 268.7M164.3 36.4L134.2 292M194.2 47.3L194.4 277.5M187.5 44.1L145.4 291.6M148.8 33.7L173.9 286M192.1 46.3L195.5 277M191 45.7L207.2 270M187 43.9L150 291.1M162.5 36L189.3 280.1M161.9 289.2L10.8 125.8M202.6 272.9L22.9 97.6M195.3 277.1L92.2 40.3M174.9 285.7L54.3 61.2M211.7 266.8L12.5 120.6M166.5 288.1L99.9 37.9M179.6 284.1L38.5 76.2M219.5 260.6L81.2 44.7M214.8 264.5L22.7 98.1M183.8 282.5L100.3 37.7M164.1 288.7L11.4 123.7M188.9 280.3L92.4 40.2M167.8 287.8L38.7 75.9M174.5 285.8L94.4 39.5M188 280.7L55.6 60.2M203.8 272.2L16.2 110.9M214.5 264.7L10.3 127.5M182 283.2L18.7 105.5M223 257.5L14.2 115.9M191.3 279.1L57.7 58.6M217 262.8L63.9 54.2M207.5 269.8L50 64.8M200.1 274.5L78.7 45.9M166.5 288.1L39.8 74.8M203.7 272.3L43.9 70.5M160.1 289.6L19.5 104M223.5 257L91.9 40.4M217.2 262.6L74.5 48M215.8 263.7L20.8 101.5M193.5 278L33 82.7M224.4 256.2L80.9 44.9M199.9 274.5L59.9 57M174.4 285.9L39.5 75M196.7 276.4L14.4 115.2M199.6 274.7L13.7 117.1M203.2 272.6L95.1 39.3M217.3 262.5L88.2 41.8M163.7 288.8L20.1 102.7M194.4 277.6L27.8 89.8M260.6 194.2L176.6 39.9M264.1 152.6L163.8 36.2M241.9 235.6L134.2 33M256.9 206.2L115.9 34.4M263.2 180.7L145.9 33.5M247.3 98L64.5 53.9M249.1 223.7L76 47.2M261.5 190.4L63.2 54.7M263.6 146.9L73 48.8M259 125.2L140.5 33.1M255.7 115.6L181.8 41.8M250.8 220.6L161.8 35.8M260.7 131.5L177.6 40.2M264.1 172.8L111.1 35.2M251.2 105.3L161.3 35.7M263.8 175.6L182.4 42M261.8 188.8L165.9 36.7M262.6 140.3L97.2 38.6M264.5 163L156.4 34.8M259.9 128.3L72.8 48.9M261.3 134L131 33.1M255.7 209.4L126.9 33.3M261.8 188.8L185.4 43.2M250.2 221.7L62.4 55.2M259.9 196.8L171.7 38.3M258.8 200.6L133.2 33M259.3 126.3L140.3 33.1M248 225.7L77.6 46.4M254.1 111.8L180.9 41.4M256.1 116.6L63.9 54.2M247.8 226.1L182.8 42.1M259.1 125.4L73.6 48.5M253.6 214.4L141.5 33.2M259.1 125.3L99.6 37.9M248.7 100.4L91.6 40.5M259.2 199.3L106 36.3M262.5 185.4L64.2 54.1M264.4 158.8L160.6 35.5M259.6 197.8L128.8 33.1M257.5 120.5L60.9 56.3M257 205.8L187 43.9M258.2 122.5L123 33.6M255.8 209.2L141 33.1M252.9 109L175.7 39.6M263.4 145.9L100.6 37.6M263.3 179.7L75.3 47.6M249.8 222.4L89.2 41.4M256.7 118.3L79 45.8M263 142.7L126.7 33.3M255.3 210.3L155.3 34.6M258.7 124.1L142.4 33.2M259.1 125.5L108.7 35.7M264.4 168.2L141.6 33.2M256.1 116.6L137.8 33M258 202.9L178.2 40.4M263.4 179L157.4 34.9M260.6 194.2L142.9 33.2M262.7 140.8L141.1 33.1M262.2 187L90.7 40.8M264.5 161.6L140.2 33.1M260.7 193.6L181 41.4M261.4 190.6L161.2 35.7M264.4 166.7L186.6 43.7M245.8 229.5L126.3 33.3M259.3 126.1L148.7 33.7M255.3 210.4L54.1 61.4M260.6 194L42.8 71.6M259.4 126.7L45.5 68.9M264 173.4L18.4 106.2M252.9 109L25.3 93.6M261.3 191L39.3 75.3M256.9 206.2L79.4 45.5M250.6 104.1L48.9 65.7M264 151.6L76.5 47M263.5 146.1L6.7 144.6M256.9 118.8L14.7 114.5M263.9 150.2L15.9 111.7M245.6 229.8L15.8 112M254.2 213.2L5.9 152.8M257.4 204.8L17.9 107.3M264.5 159.5L15.8 112M245.2 230.5L10.9 125.4M262.2 186.6L103.7 288.2M253.2 215.4L100.6 287.3M263.3 179.9L114.6 290.4M257.7 121.2L107.7 289.1M244.7 231.3L96.5 286.1M208.4 55.8L126.7 291.7M261.5 134.9L107.6 289.1M201.7 273.5L104.2 288.3M203.1 272.6L119.5 291.1M246.1 229.1L99.8 287.1M239 85.3L86.6 282.6M223.9 256.7L99.8 287.1M263.7 176.9L102.9 288M227.4 253.2L106.8 288.9M256.8 118.5L100.8 287.4M221 259.3L97 286.3M251.7 106.4L106.2 288.7M257.4 120.1L106.1 288.7M200.2 50.6L100.6 287.3M242.6 90.4L110.2 289.6M264.5 161.3L104.1 288.3M262.6 184.9L114.9 290.4M264.3 156.2L101.1 287.5M234.5 245.4L110.9 289.7M233.6 78.6L114.1 290.3M228.4 252.2L96.4 286.1M252 217.9L116.8 290.7M243.4 91.7L104.2 288.3M237 242.3L102.1 287.8M220.9 65.6L107.7 289.1M251.3 219.4L109.8 289.5M226.2 70.6L116.3 290.6M237.5 83.4L94.3 285.4M257 119.2L68.7 273.7M242.2 235.1L77 278.3M253.2 109.6L81.4 280.4M264.2 154L72.8 276.1M263.2 144.4L84.9 281.9M236.8 82.5L81.3 280.3M261 132.5L81.7 280.5M264 173.6L91.2 284.4M264.5 161L87.4 282.9M249.1 101.3L86.3 282.5M264.2 153.7L88.5 283.4M248.8 100.6L89.4 283.7M235.8 243.8L83.6 281.4M262.4 139.1L77.7 278.6M260 128.8L93 285M230.6 75.2L138.4 33M257 206L113.1 34.9M169 287.5L5.5 164.1M249 223.8L51.7 63.4M260.3 195.3L19 104.9M250.9 220.2L5.6 168.7M237.2 83L88 41.8M239.9 86.5L25.6 231.8M263.5 178.9L6.7 180.4M263.9 175.4L36 79M260.5 194.5L174.4 39.1M264.4 158L70.8 50M261.6 135.1L17.4 216.7M264.3 154.8L19.8 221.7M262.2 187L50.4 260.6M258.3 201.9L60.1 268.1M254.7 113.1L8.8 191.6M258.2 202.3L58.4 266.9M247.6 226.5L75.3 277.4M261 192.4L53.6 263.2M260 196.2L53.1 262.8M263.7 177.2L5.6 157.8M256.9 206.3L7 182.3M249.8 222.5L9.7 195.1M260.8 193.3L6.1 175.4M260.4 130L14 116.3M263.1 181.6L5.8 171.4M264.5 163.9L5.9 152.1M134.9 292L212.1 58.4M244.5 231.6L13.7 117.2M248.9 224L8.3 135.7M239.6 238.9L13.9 116.7M132.4 292L216 61.5M21.5 224.8L263.7 177M195.6 276.9L109.6 35.5M8.3 189.4L259.7 197.5M121.1 291.3L233.6 78.5M230.7 249.7L28.2 89.2M178.8 284.4L143.8 33.3M235.3 244.4L34.1 81.4M209.2 268.6L80.3 45.1M158 289.9L180.6 41.3M184.6 282.1L122 33.7M148.2 291.3L183.9 42.6M228.6 252L34.7 80.6M125.2 291.6L222.5 67.1M207.8 269.6L84.2 43.4M243.9 232.6L7.4 140.7M160.9 289.4L184.3 42.7M242.2 235.2L10.6 126.7M195.1 277.2L87.3 42.1"/>
</g>
<text x="-0.1" y="8.8" font-size="10.5" font-weight="bold">A</text>
<text x="153.8" y="33.2" font-size="7.35" class="cl" font-weight="bold">STAT3</text>
<text x="169.2" y="39.9" font-size="7.35" class="cl">KIT</text>
<text x="184.2" y="41.3" font-size="7.35" class="cl" font-weight="bold">MTOR</text>
<text x="171.7" y="48" font-size="7.35" class="cl">MET</text>
<text x="189.6" y="48" font-size="7.35" class="cl">AR</text>
<text x="203.6" y="47.4" font-size="7.35" class="cl">Doxorubicin</text>
<text x="203.5" y="52.9" font-size="7.35" class="cl" font-weight="bold">Sorafenib</text>
<text x="198.9" y="59.1" font-size="7.35" class="cl">Estradiol valerate</text>
<text x="203.4" y="63.9" font-size="7.35" class="cl">Enzalutamide</text>
<text x="215" y="72.4" font-size="7.35" class="cl">Olaparib</text>
<text x="223" y="79.9" font-size="7.35" class="cl" font-weight="bold">Cisplatin</text>
<text x="223.5" y="86.9" font-size="7.35" class="cl">Pazopanib</text>
<text x="250" y="127.4" font-size="7.35" class="cl">Lapatinib</text>
<text x="250.4" y="142.1" font-size="7.35" class="cl">Tamoxifen</text>
<text x="234" y="148.7" font-size="7.35" class="cl">Crizotinib</text>
<text x="264.8" y="153.6" font-size="7.35" class="cl">Lenvatinib</text>
<text x="237.9" y="156.3" font-size="7.35" class="cl">Gefitinib</text>
<text x="253.8" y="162.4" font-size="7.35" class="cl" font-weight="bold">Paclitaxel</text>
<text x="223.8" y="169.6" font-size="7.35" class="cl">5-Fluorouracil</text>
<text x="256.8" y="175.4" font-size="7.35" class="cl">Cabozantinib</text>
<text x="244.6" y="181.8" font-size="7.35" class="cl" font-weight="bold">Regorafenib</text>
<text x="260.9" y="187.6" font-size="7.35" class="cl">Everolimus</text>
<text x="222.5" y="192.2" font-size="7.35" class="cl">Gemcitabine</text>
<text x="259.3" y="198.8" font-size="7.35" class="cl">Trametinib</text>
<text x="213" y="203.1" font-size="7.35" class="cl">Temozolomide</text>
<text x="256.3" y="208.8" font-size="7.35" class="cl">Palbociclib</text>
<text x="244.3" y="215.6" font-size="7.35" class="cl">Afatinib</text>
<text x="209.4" y="266.8" font-size="7.35" class="cl">Axitinib</text>
<text x="203.4" y="272.8" font-size="7.35" class="cl">Imatinib</text>
<text x="193.9" y="278.4" font-size="7.35" class="cl">Sunitinib</text>
<text x="139.5" y="295.3" font-size="7.35" class="cl">Vandetanib</text>
<text x="70" y="280.9" font-size="7.35" class="cl">MYC</text>
<text x="79.7" y="288.2" font-size="7.35" class="cl" font-weight="bold">EGFR</text>
<text x="92.6" y="295.9" font-size="7.35" class="cl">MDM2</text>
<text x="37.4" y="66.6" font-size="7.35" class="cl">MYCN</text>
<text x="33" y="73.4" font-size="7.35" class="cl">ALK</text>
<text x="23.8" y="80.6" font-size="7.35" class="cl">JAK2</text>
<text x="16" y="95.5" font-size="7.35" class="cl">FLT3</text>
<text x="11.1" y="108.6" font-size="7.35" class="cl">JUN</text>
<text x="4" y="115.6" font-size="7.35" class="cl">CDK4</text>
<text x="2.7" y="123.1" font-size="7.35" class="cl" font-weight="bold">BCL2</text>
<text x="0" y="135.1" font-size="7.35" class="cl">SRC</text>
<rect x="68.5" y="312.5" width="13.5" height="13.5" rx="1.5" fill="#c9e6f3" stroke="#7a7a7a" stroke-width="0.8"/>
<circle cx="75.1" cy="336.5" r="7.3" fill="#fde5c9" stroke="#7a7a7a" stroke-width="0.8"/>
<text x="87.4" y="322.2" font-size="7.7">Drug</text>
<text x="87.4" y="339.9" font-size="7.7">Gene</text>
<line x1="128.7" y1="319.5" x2="148" y2="319.5" stroke="#f26b3a" stroke-width="1.3"/>
<line x1="128.7" y1="336.8" x2="148" y2="336.8" stroke="#23238f" stroke-width="1.3"/>
<text x="149.8" y="322.2" font-size="7.7">Direct binding</text>
<text x="149.8" y="339.9" font-size="7.7">Indirect modulation</text>
<text x="302.3" y="8.9" font-size="10.5" font-weight="bold">B</text>
<path d="M363 53 L363 12 A41 41 0 0 0 324.6 67.4 Z" fill="#6dc7bf" stroke="#6dc7bf" stroke-width="0.3"/>
<path d="M363 53 L363 12 A41 41 0 1 1 324.6 67.4 Z" fill="#ccda2a" stroke="#ccda2a" stroke-width="0.3"/>
<path d="M476 53 L476 12 A41 41 0 0 0 453.2 87.1 Z" fill="#ccda2a" stroke="#ccda2a" stroke-width="0.3"/>
<path d="M476 53 L476 12 A41 41 0 1 1 453.2 87.1 Z" fill="#6dc7bf" stroke="#6dc7bf" stroke-width="0.3"/>
<text x="328.5" y="37.6" font-size="7.6" text-anchor="middle">Direct binding</text>
<text x="330.1" y="47.9" font-size="7.6" text-anchor="middle">(30.7%)</text>
<text x="366.7" y="70.2" font-size="7.6" text-anchor="middle">Indirect modulation</text>
<text x="370.3" y="81.3" font-size="7.6" text-anchor="middle">(69.3%)</text>
<text x="439.8" y="37.6" font-size="7.6" text-anchor="middle">Cancer type–</text>
<text x="437.8" y="48" font-size="7.6" text-anchor="middle">specific (40.6%)</text>
<text x="488.8" y="70.5" font-size="7.6" text-anchor="middle">≥2 cancer</text>
<text x="487.2" y="81.6" font-size="7.6" text-anchor="middle">types (59.4%)</text>
<text x="302.1" y="113.7" font-size="10.5" font-weight="bold">C</text>
<text x="375" y="116.2" font-size="7.7" text-anchor="middle">Number of</text>
<text x="375" y="124.4" font-size="7.7" text-anchor="middle">drug–gene pairs</text>
<rect x="346.7" y="137.2" width="56.60000000000002" height="221.0" fill="#fff"/>
<path d="M353.2 137.2V358.2M359.7 137.2V358.2M366.2 137.2V358.2M372.8 137.2V358.2M379.3 137.2V358.2M385.8 137.2V358.2M392.3 137.2V358.2M398.8 137.2V358.2M346.7 142.2H403.3M346.7 150.6H403.3M346.7 159.1H403.3M346.7 167.5H403.3M346.7 176H403.3M346.7 184.4H403.3M346.7 192.9H403.3M346.7 201.3H403.3M346.7 209.8H403.3M346.7 218.2H403.3M346.7 226.7H403.3M346.7 235.1H403.3M346.7 243.6H403.3M346.7 252H403.3M346.7 260.5H403.3M346.7 268.9H403.3M346.7 277.4H403.3M346.7 285.8H403.3M346.7 294.3H403.3M346.7 302.8H403.3M346.7 311.2H403.3M346.7 319.6H403.3M346.7 328.1H403.3M346.7 336.5H403.3M346.7 345H403.3M346.7 353.4H403.3" stroke="#ebebeb" stroke-width="0.6" fill="none"/>
<rect x="346.7" y="138.6" width="52.2" height="7.1" fill="#5d5e62"/>
<text x="342.1" y="144.7" font-size="7.0" text-anchor="end">Breast</text>
<rect x="346.7" y="147.1" width="43.6" height="7.1" fill="#5d5e62"/>
<text x="342.1" y="153.1" font-size="7.0" text-anchor="end">Lung</text>
<rect x="346.7" y="155.5" width="23.4" height="7.1" fill="#5d5e62"/>
<text x="342.1" y="161.6" font-size="7.0" text-anchor="end">Colorectal</text>
<rect x="346.7" y="164" width="21.2" height="7.1" fill="#5d5e62"/>
<text x="342.1" y="170" font-size="7.0" text-anchor="end">Prostate</text>
<rect x="346.7" y="172.4" width="20.2" height="7.1" fill="#5d5e62"/>
<text x="342.1" y="178.5" font-size="7.0" text-anchor="end">Ovarian</text>
<rect x="346.7" y="180.9" width="16.8" height="7.1" fill="#5d5e62"/>
<text x="342.1" y="186.9" font-size="7.0" text-anchor="end">Gastric</text>
<rect x="346.7" y="189.3" width="15.2" height="7.1" fill="#5d5e62"/>
<text x="342.1" y="195.4" font-size="7.0" text-anchor="end">Liver</text>
<rect x="346.7" y="197.8" width="14.5" height="7.1" fill="#5d5e62"/>
<text x="342.1" y="203.8" font-size="7.0" text-anchor="end">Brain</text>
<rect x="346.7" y="206.2" width="13.5" height="7.1" fill="#5d5e62"/>
<text x="342.1" y="212.3" font-size="7.0" text-anchor="end">Pancreatic</text>
<rect x="346.7" y="214.7" width="9.5" height="7.1" fill="#5d5e62"/>
<text x="342.1" y="220.8" font-size="7.0" text-anchor="end">Skin</text>
<rect x="346.7" y="223.1" width="9.2" height="7.1" fill="#5d5e62"/>
<text x="342.1" y="229.2" font-size="7.0" text-anchor="end">Bladder</text>
<rect x="346.7" y="231.6" width="8.9" height="7.1" fill="#5d5e62"/>
<text x="342.1" y="237.6" font-size="7.0" text-anchor="end">Other</text>
<rect x="346.7" y="240" width="6.6" height="7.1" fill="#5d5e62"/>
<text x="342.1" y="246.1" font-size="7.0" text-anchor="end">Thyroid</text>
<rect x="346.7" y="248.5" width="6.3" height="7.1" fill="#5d5e62"/>
<text x="342.1" y="254.5" font-size="7.0" text-anchor="end">HNC</text>
<rect x="346.7" y="256.9" width="6.3" height="7.1" fill="#5d5e62"/>
<text x="342.1" y="263" font-size="7.0" text-anchor="end">Leukemia</text>
<rect x="346.7" y="265.4" width="6" height="7.1" fill="#5d5e62"/>
<text x="342.1" y="271.4" font-size="7.0" text-anchor="end">Kidney</text>
<rect x="346.7" y="273.8" width="5.3" height="7.1" fill="#5d5e62"/>
<text x="342.1" y="279.9" font-size="7.0" text-anchor="end">Cervical</text>
<rect x="346.7" y="282.3" width="4.9" height="7.1" fill="#5d5e62"/>
<text x="342.1" y="288.3" font-size="7.0" text-anchor="end">Sarcoma</text>
<rect x="346.7" y="290.7" width="4.3" height="7.1" fill="#5d5e62"/>
<text x="342.1" y="296.8" font-size="7.0" text-anchor="end">NBL</text>
<rect x="346.7" y="299.2" width="4" height="7.1" fill="#5d5e62"/>
<text x="342.1" y="305.2" font-size="7.0" text-anchor="end">Bone</text>
<rect x="346.7" y="307.6" width="4" height="7.1" fill="#5d5e62"/>
<text x="342.1" y="313.7" font-size="7.0" text-anchor="end">Esophageal</text>
<rect x="346.7" y="316.1" width="3" height="7.1" fill="#5d5e62"/>
<text x="342.1" y="322.1" font-size="7.0" text-anchor="end">UEC</text>
<rect x="346.7" y="324.5" width="2.7" height="7.1" fill="#5d5e62"/>
<text x="342.1" y="330.6" font-size="7.0" text-anchor="end">Lymphoma</text>
<rect x="346.7" y="333" width="1.7" height="7.1" fill="#5d5e62"/>
<text x="342.1" y="339" font-size="7.0" text-anchor="end">Myeloma</text>
<rect x="346.7" y="341.4" width="1.3" height="7.1" fill="#5d5e62"/>
<text x="342.1" y="347.5" font-size="7.0" text-anchor="end">Bile duct</text>
<rect x="346.7" y="349.9" width="0.3" height="7.1" fill="#5d5e62"/>
<text x="342.1" y="355.9" font-size="7.0" text-anchor="end">Eye</text>
<text x="346.7" y="135.1" font-size="6.8" text-anchor="middle">0</text>
<text x="359.7" y="135.1" font-size="6.8" text-anchor="middle">100</text>
<text x="372.8" y="135.1" font-size="6.8" text-anchor="middle">200</text>
<text x="385.8" y="135.1" font-size="6.8" text-anchor="middle">300</text>
<text x="398.8" y="135.1" font-size="6.8" text-anchor="middle">400</text>
<path d="M345 142.2H346.7M345 150.6H346.7M345 159.1H346.7M345 167.5H346.7M345 176H346.7M345 184.4H346.7M345 192.9H346.7M345 201.3H346.7M345 209.8H346.7M345 218.2H346.7M345 226.7H346.7M345 235.1H346.7M345 243.6H346.7M345 252H346.7M345 260.5H346.7M345 268.9H346.7M345 277.4H346.7M345 285.8H346.7M345 294.3H346.7M345 302.8H346.7M345 311.2H346.7M345 319.6H346.7M345 328.1H346.7M345 336.5H346.7M345 345H346.7M345 353.4H346.7M346.7 135.2V137.2M359.7 135.2V137.2M372.8 135.2V137.2M385.8 135.2V137.2M398.8 135.2V137.2" stroke="#333" stroke-width="0.6" fill="none"/>
<path d="M346.7 137.2H403.3V358.2H346.7" stroke="#666" stroke-width="0.8" fill="none"/>
<path d="M346.7 136.8V358.6" stroke="#333" stroke-width="0.8" fill="none"/>
<text x="415.4" y="113.3" font-size="10.5" font-weight="bold">D</text>
<text x="487" y="124.6" font-size="7.7" text-anchor="middle">Number of drugs</text>
<path d="M465.5 137V358.2M472.6 137V358.2M479.8 137V358.2M487 137V358.2M494.2 137V358.2M501.3 137V358.2M508.5 137V358.2M458.3 149.6H516M458.3 169.3H516M458.3 189.1H516M458.3 208.8H516M458.3 228.6H516M458.3 248.3H516M458.3 268.1H516M458.3 287.9H516M458.3 307.6H516M458.3 327.4H516M458.3 347.1H516" stroke="#ebebeb" stroke-width="0.6" fill="none"/>
<rect x="458.3" y="141.2" width="54.5" height="16.9" fill="#f9bc82" stroke="#f7b06e" stroke-width="0.5"/>
<text x="451.8" y="149.4" font-size="6.7" text-anchor="end">Kinase</text>
<text x="451.8" y="155.8" font-size="6.7" text-anchor="end">inhibitors</text>
<rect x="468.3" y="160.9" width="27.2" height="16.9" fill="#f9bc82" stroke="#f7b06e" stroke-width="0.5"/>
<rect x="458.3" y="160.9" width="10" height="16.9" fill="#8bb7d8" stroke="#76a9d4" stroke-width="0.5"/>
<text x="451.8" y="166" font-size="6.7" text-anchor="end">DNA/RNA</text>
<text x="451.8" y="172.3" font-size="6.7" text-anchor="end">synthesis</text>
<text x="451.8" y="178.7" font-size="6.7" text-anchor="end">inhibitors</text>
<rect x="464" y="180.7" width="14.3" height="16.9" fill="#f9bc82" stroke="#f7b06e" stroke-width="0.5"/>
<rect x="458.3" y="180.7" width="5.7" height="16.9" fill="#8bb7d8" stroke="#76a9d4" stroke-width="0.5"/>
<text x="451.8" y="188.9" font-size="6.7" text-anchor="end">Enzyme</text>
<text x="451.8" y="195.2" font-size="6.7" text-anchor="end">inhibitors</text>
<rect x="465.5" y="200.4" width="8.6" height="16.9" fill="#f9bc82" stroke="#f7b06e" stroke-width="0.5"/>
<rect x="458.3" y="200.4" width="7.2" height="16.9" fill="#8bb7d8" stroke="#76a9d4" stroke-width="0.5"/>
<text x="451.8" y="208.7" font-size="6.7" text-anchor="end">Receptor</text>
<text x="451.8" y="215" font-size="6.7" text-anchor="end">antagonists</text>
<rect x="461.2" y="220.2" width="8.6" height="16.9" fill="#f9bc82" stroke="#f7b06e" stroke-width="0.5"/>
<rect x="458.3" y="220.2" width="2.9" height="16.9" fill="#8bb7d8" stroke="#76a9d4" stroke-width="0.5"/>
<text x="451.8" y="228.4" font-size="6.7" text-anchor="end">Microtubule</text>
<text x="451.8" y="234.8" font-size="6.7" text-anchor="end">inhibitors</text>
<rect x="462.6" y="239.9" width="2.9" height="16.9" fill="#f9bc82" stroke="#f7b06e" stroke-width="0.5"/>
<rect x="458.3" y="239.9" width="4.3" height="16.9" fill="#8bb7d8" stroke="#76a9d4" stroke-width="0.5"/>
<text x="451.8" y="248.2" font-size="6.7" text-anchor="end">Receptor</text>
<text x="451.8" y="254.5" font-size="6.7" text-anchor="end">agonists</text>
<rect x="461.2" y="259.7" width="2.9" height="16.9" fill="#f9bc82" stroke="#f7b06e" stroke-width="0.5"/>
<rect x="458.3" y="259.7" width="2.9" height="16.9" fill="#8bb7d8" stroke="#76a9d4" stroke-width="0.5"/>
<text x="451.8" y="268" font-size="6.7" text-anchor="end">Receptor</text>
<text x="451.8" y="274.2" font-size="6.7" text-anchor="end">modulators</text>
<rect x="461.2" y="279.4" width="1.4" height="16.9" fill="#f9bc82" stroke="#f7b06e" stroke-width="0.5"/>
<rect x="458.3" y="279.4" width="2.9" height="16.9" fill="#8bb7d8" stroke="#76a9d4" stroke-width="0.5"/>
<text x="451.8" y="287.7" font-size="6.7" text-anchor="end">Hormonal</text>
<text x="451.8" y="294" font-size="6.7" text-anchor="end">modulators</text>
<rect x="458.3" y="299.2" width="2.9" height="16.9" fill="#f9bc82" stroke="#f7b06e" stroke-width="0.5"/>
<text x="451.8" y="307.5" font-size="6.7" text-anchor="end">Immune</text>
<text x="451.8" y="313.8" font-size="6.7" text-anchor="end">modulators</text>
<rect x="458.3" y="318.9" width="2.9" height="16.9" fill="#f9bc82" stroke="#f7b06e" stroke-width="0.5"/>
<text x="451.8" y="330.4" font-size="6.7" text-anchor="end">Other</text>
<rect x="458.3" y="338.7" width="1.4" height="16.9" fill="#8bb7d8" stroke="#76a9d4" stroke-width="0.5"/>
<text x="451.8" y="343.8" font-size="6.7" text-anchor="end">Ion</text>
<text x="451.8" y="350.1" font-size="6.7" text-anchor="end">channel</text>
<text x="451.8" y="356.4" font-size="6.7" text-anchor="end">modulators</text>
<text x="458.3" y="135.5" font-size="6.8" text-anchor="middle">0</text>
<text x="472.6" y="135.5" font-size="6.8" text-anchor="middle">10</text>
<text x="487" y="135.5" font-size="6.8" text-anchor="middle">20</text>
<text x="501.3" y="135.5" font-size="6.8" text-anchor="middle">30</text>
<text x="515.7" y="135.5" font-size="6.8" text-anchor="middle">40</text>
<path d="M456.6 149.6H458.3M456.6 169.3H458.3M456.6 189.1H458.3M456.6 208.8H458.3M456.6 228.6H458.3M456.6 248.3H458.3M456.6 268.1H458.3M456.6 287.9H458.3M456.6 307.6H458.3M456.6 327.4H458.3M456.6 347.1H458.3M458.3 135V137M472.6 135V137M487 135V137M501.3 135V137M515.7 135V137" stroke="#333" stroke-width="0.6" fill="none"/>
<path d="M458.3 137H516V358.2H458.3" stroke="#666" stroke-width="0.8" fill="none"/>
<path d="M458.3 136.6V358.6" stroke="#333" stroke-width="0.8" fill="none"/>
<rect x="464.5" y="335" width="49.5" height="22" fill="#fff" stroke="#a8a8a8" stroke-width="0.5"/>
<rect x="466.5" y="337" width="8.5" height="8" fill="#8bb7d8" stroke="#76a9d4" stroke-width="0.5"/>
<rect x="466.5" y="346.7" width="8.5" height="8" fill="#f9bc82" stroke="#f7b06e" stroke-width="0.5"/>
<text x="476.2" y="344.3" font-size="6.7">Single-target</text>
<text x="476.2" y="353.3" font-size="6.7">Multitarget</text>
</svg></body></html>
